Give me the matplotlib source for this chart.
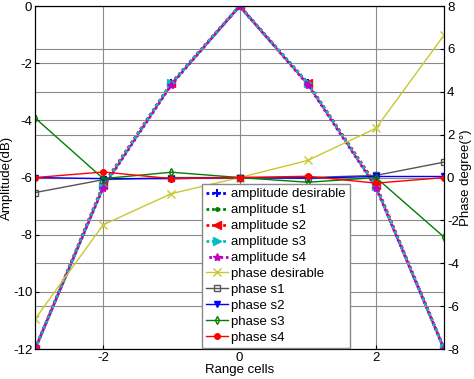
import numpy as np
import matplotlib
matplotlib.use('Agg')
import matplotlib.pyplot as plt

plt.rcParams['font.family'] = ['Liberation Sans', 'DejaVu Sans']
plt.rcParams['axes.unicode_minus'] = False

# range cells
x = [-3, -2, -1, 0, 1, 2, 3]

# amplitude (dB), left axis
amp_des = [-12.0, -6.3, -2.7, 0.0, -2.7, -6.3, -12.0]
amp_s1 = [-12.0, -6.3, -2.7, 0.0, -2.7, -6.3, -12.0]
amp_s2 = [-12.0, -6.25, -2.7, 0.0, -2.7, -6.25, -12.0]
amp_s3 = [-12.0, -6.3, -2.7, 0.0, -2.7, -6.3, -12.0]
amp_s4 = [-12.0, -6.35, -2.75, 0.0, -2.75, -6.35, -12.0]

# phase (degree), right axis
ph_des = [-6.6, -2.2, -0.75, 0.0, 0.8, 2.3, 6.65]
ph_s1 = [-0.7, -0.1, 0.0, 0.0, 0.0, 0.1, 0.72]
ph_s2 = [0.0, -0.05, -0.05, 0.0, -0.03, 0.05, 0.05]
ph_s3 = [2.78, -0.05, 0.25, 0.0, -0.22, 0.0, -2.78]
ph_s4 = [0.0, 0.26, -0.05, 0.0, 0.06, -0.26, 0.0]

fig = plt.figure(figsize=(4.74, 3.79), dpi=100)
ax = fig.add_axes([0.074, 0.079, 0.863, 0.905])
ax2 = ax.twinx()

lw = 2.0
dots = (0, (1, 1))
h1, = ax.plot(x, amp_des, ls=dots, color='b', lw=lw, marker='+', ms=6, mew=1.5, label='amplitude desirable')
h2, = ax.plot(x, amp_s1, ls=dots, color='g', lw=lw, marker='.', ms=5, label='amplitude s1')
h3, = ax.plot(x, amp_s2, ls=dots, color='r', lw=lw, marker='<', ms=6, label='amplitude s2')
h4, = ax.plot(x, amp_s3, ls=dots, color='c', lw=lw, marker='>', ms=6, label='amplitude s3')
h5, = ax.plot(x, amp_s4, ls=(1, (1, 1)), color='m', lw=lw, marker='*', ms=6, label='amplitude s4')

h6, = ax2.plot(x, ph_des, '-', color='#c8c830', lw=1, marker='x', ms=6, label='phase desirable')
h7, = ax2.plot(x, ph_s1, '-', color='#555555', lw=1, marker='s', ms=4, mfc='none', label='phase s1')
h8, = ax2.plot(x, ph_s2, '-', color='b', lw=1, marker='v', ms=5, label='phase s2')
h9, = ax2.plot(x, ph_s3, '-', color='g', lw=1, marker='d', ms=4, mfc='none', label='phase s3')
h10, = ax2.plot(x, ph_s4, '-', color='r', lw=1, marker='o', ms=4, label='phase s4')

ax.set_xlim(-3, 3)
ax.set_ylim(-12, 0)
ax2.set_ylim(-8, 8)
ax.set_xticks([-2, 0, 2])
ax.set_yticks(np.arange(-12, 1, 2))
ax2.set_yticks(np.arange(-8, 9, 2))

ax.grid(True, color='#8a8a8a', lw=0.8)
ax2.grid(True, axis='y', color='#8a8a8a', lw=0.8)
ax.set_axisbelow(True)

for a in (ax, ax2):
    a.tick_params(direction='in', labelsize=9.5, length=3, pad=2)
    for s in a.spines.values():
        s.set_linewidth(0.8)

ax.set_xlabel('Range cells', fontsize=9.5, labelpad=0)
ax.set_ylabel('Amplitude(dB)', fontsize=9.5, labelpad=0)
ax2.set_ylabel('Phase degree(°)', fontsize=9.5, rotation=90, labelpad=1)

handles = [h1, h2, h3, h4, h5, h6, h7, h8, h9, h10]
leg = ax2.legend(handles=handles, loc='lower left', bbox_to_anchor=(0.405, 0.0),
                 fontsize=9.5, fancybox=False, framealpha=1, edgecolor='#888888',
                 handlelength=1.7, handletextpad=0.2, labelspacing=0.28,
                 borderpad=0.3, borderaxespad=0.1)
leg.get_frame().set_linewidth(1.0)

fig.savefig('out.png', dpi=100)
